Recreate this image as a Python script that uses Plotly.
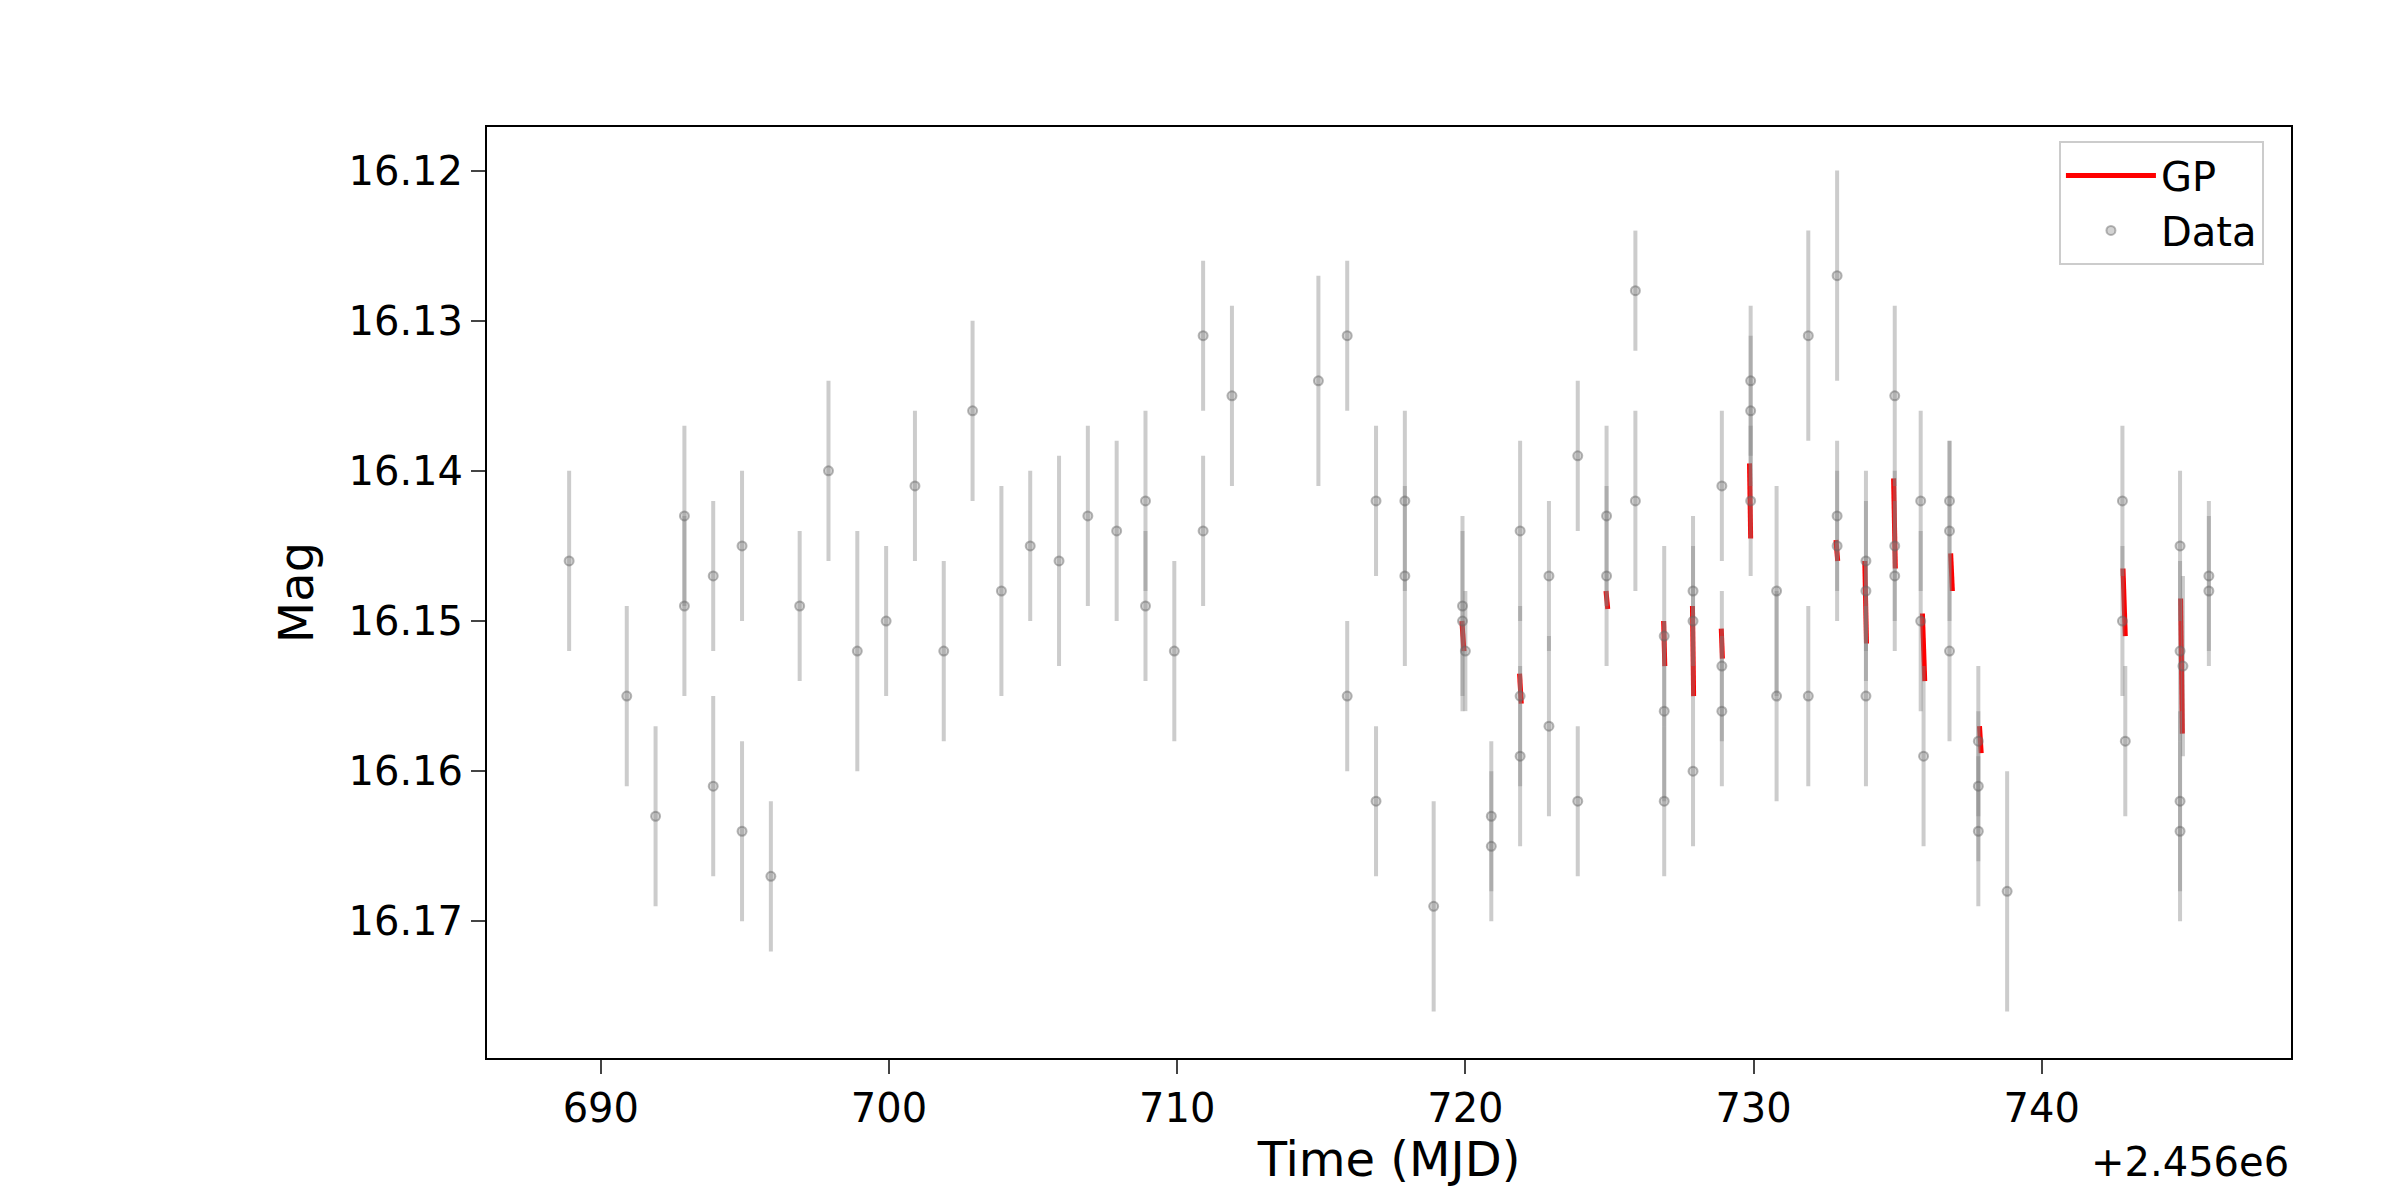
import plotly.graph_objects as go

# Data (time relative to 2456000)
t = [688.9, 690.9, 691.9, 692.9, 692.9, 693.9, 693.9, 694.9, 694.9, 695.9, 696.9, 697.9, 698.9, 699.9,
     700.9, 701.9, 702.9, 703.9, 704.9, 705.9, 706.9, 707.9, 708.9, 708.9, 709.9, 710.9, 710.9, 711.9,
     714.9, 715.9, 715.9, 716.9, 716.9, 717.9, 717.9, 718.9,
     719.9, 719.9, 720.0, 720.9, 720.9, 721.9, 721.9, 721.9, 722.9, 722.9, 723.9, 723.9, 724.9, 724.9,
     725.9, 725.9, 726.9, 726.9, 726.9, 727.9, 727.9, 727.9, 728.9, 728.9, 728.9, 729.9, 729.9, 729.9,
     730.8, 730.8, 731.9, 731.9, 732.9, 732.9, 732.9, 733.9, 733.9, 733.9, 734.9, 734.9, 734.9,
     735.8, 735.8, 735.9, 736.8, 736.8, 736.8, 737.8, 737.8, 737.8, 738.8,
     742.8, 742.8, 742.9, 744.8, 744.8, 744.8, 744.9, 744.8, 745.8, 745.8]
mag = [16.146, 16.155, 16.163, 16.143, 16.149, 16.147, 16.161, 16.145, 16.164, 16.167, 16.149, 16.140, 16.152, 16.150,
       16.141, 16.152, 16.136, 16.148, 16.145, 16.146, 16.143, 16.144, 16.142, 16.149, 16.152, 16.131, 16.144, 16.135,
       16.134, 16.131, 16.155, 16.142, 16.162, 16.142, 16.147, 16.169,
       16.149, 16.150, 16.152, 16.163, 16.165, 16.144, 16.155, 16.159, 16.147, 16.157, 16.139, 16.162, 16.143, 16.147,
       16.128, 16.142, 16.151, 16.156, 16.162, 16.148, 16.150, 16.160, 16.141, 16.153, 16.156, 16.134, 16.136, 16.142,
       16.148, 16.155, 16.131, 16.155, 16.127, 16.143, 16.145, 16.146, 16.148, 16.155, 16.135, 16.145, 16.147,
       16.142, 16.150, 16.159, 16.142, 16.144, 16.152, 16.158, 16.161, 16.164, 16.168,
       16.142, 16.150, 16.158, 16.145, 16.152, 16.162, 16.153, 16.164, 16.147, 16.148]
err = [0.006, 0.006, 0.006, 0.006, 0.006, 0.005, 0.006, 0.005, 0.006, 0.005, 0.005, 0.006, 0.008, 0.005,
       0.005, 0.006, 0.006, 0.007, 0.005, 0.007, 0.006, 0.006, 0.006, 0.005, 0.006, 0.005, 0.005, 0.006,
       0.007, 0.005, 0.005, 0.005, 0.005, 0.006, 0.006, 0.007,
       0.006, 0.006, 0.004, 0.005, 0.005, 0.006, 0.006, 0.006, 0.005, 0.006, 0.005, 0.005, 0.006, 0.006,
       0.004, 0.006, 0.006, 0.006, 0.005, 0.005, 0.005, 0.005, 0.005, 0.005, 0.005, 0.005, 0.005, 0.005,
       0.007, 0.007, 0.007, 0.006, 0.007, 0.005, 0.005, 0.006, 0.006, 0.006, 0.006, 0.005, 0.005,
       0.006, 0.006, 0.006, 0.004, 0.006, 0.006, 0.005, 0.005, 0.005, 0.008,
       0.005, 0.005, 0.005, 0.005, 0.006, 0.006, 0.006, 0.006, 0.005, 0.005]

# GP prediction segments: start/end time and magnitude
gp_t0 = [719.88, 721.88, 724.88, 726.88, 727.88, 728.88, 729.86, 732.86, 733.86, 734.86, 735.86, 736.84, 737.84, 742.82, 744.82]
gp_t1 = [719.95, 721.94, 724.94, 726.92, 727.92, 728.92, 729.90, 732.92, 733.92, 734.92, 735.94, 736.90, 737.90, 742.90, 744.88]
gp_m0 = [16.1500, 16.1535, 16.1480, 16.1500, 16.1490, 16.1505, 16.1395, 16.1446, 16.1460, 16.1405, 16.1495, 16.1455, 16.1570, 16.1465, 16.1485]
gp_m1 = [16.1520, 16.1555, 16.1492, 16.1530, 16.1550, 16.1525, 16.1445, 16.1460, 16.1515, 16.1465, 16.1540, 16.1480, 16.1588, 16.1510, 16.1575]

xt_vals = [690, 700, 710, 720, 730, 740]
yt_vals = [16.12, 16.13, 16.14, 16.15, 16.16, 16.17]

gx, gy = [], []
for a, b, c, d in zip(gp_t0, gp_t1, gp_m0, gp_m1):
    gx += [a, b, None]
    gy += [c, d, None]

fig = go.Figure()
fig.add_trace(go.Scatter(x=gx, y=gy, mode="lines", name="GP",
                         line=dict(color="red", width=5)))
fig.add_trace(go.Scatter(x=t, y=mag, mode="markers", name="Data",
                         marker=dict(size=9, color="rgba(128,128,128,0.35)",
                                     line=dict(color="rgba(100,100,100,0.45)", width=2)),
                         error_y=dict(type="data", array=err, visible=True,
                                      color="rgba(128,128,128,0.4)", thickness=4, width=0)))

font = "DejaVu Sans"
fig.update_layout(
    width=2400, height=1200, plot_bgcolor="white", paper_bgcolor="white",
    margin=dict(l=479, r=117, t=119, b=150),
    font=dict(family=font, size=40, color="black"),
    showlegend=True,
    legend=dict(x=0.985, y=0.985, xanchor="right", yanchor="top",
                bordercolor="#cccccc", borderwidth=2, font=dict(size=40),
                itemwidth=90, bgcolor="rgba(255,255,255,0.8)"),
    xaxis=dict(range=[686.05, 748.65], tickvals=xt_vals, ticktext=[str(v) for v in xt_vals],
               showgrid=False, zeroline=False, showline=True, mirror=True,
               linecolor="black", linewidth=2, ticks="outside", ticklen=14, tickwidth=2,
               title=dict(text="Time (MJD)", font=dict(size=48), standoff=6)),
    yaxis=dict(range=[16.1791, 16.1171], tickvals=yt_vals, ticktext=[f"{v:.2f}" for v in yt_vals],
               showgrid=False, zeroline=False, showline=True, mirror=True,
               linecolor="black", linewidth=2, ticks="outside", ticklen=14, tickwidth=2,
               title=dict(text="Mag", font=dict(size=48), standoff=20)),
)
fig.add_annotation(text="+2.456e6", xref="paper", yref="paper", x=1.0, y=-0.085,
                   xanchor="right", yanchor="top", showarrow=False, font=dict(size=40))
fig.write_html("out.html")
